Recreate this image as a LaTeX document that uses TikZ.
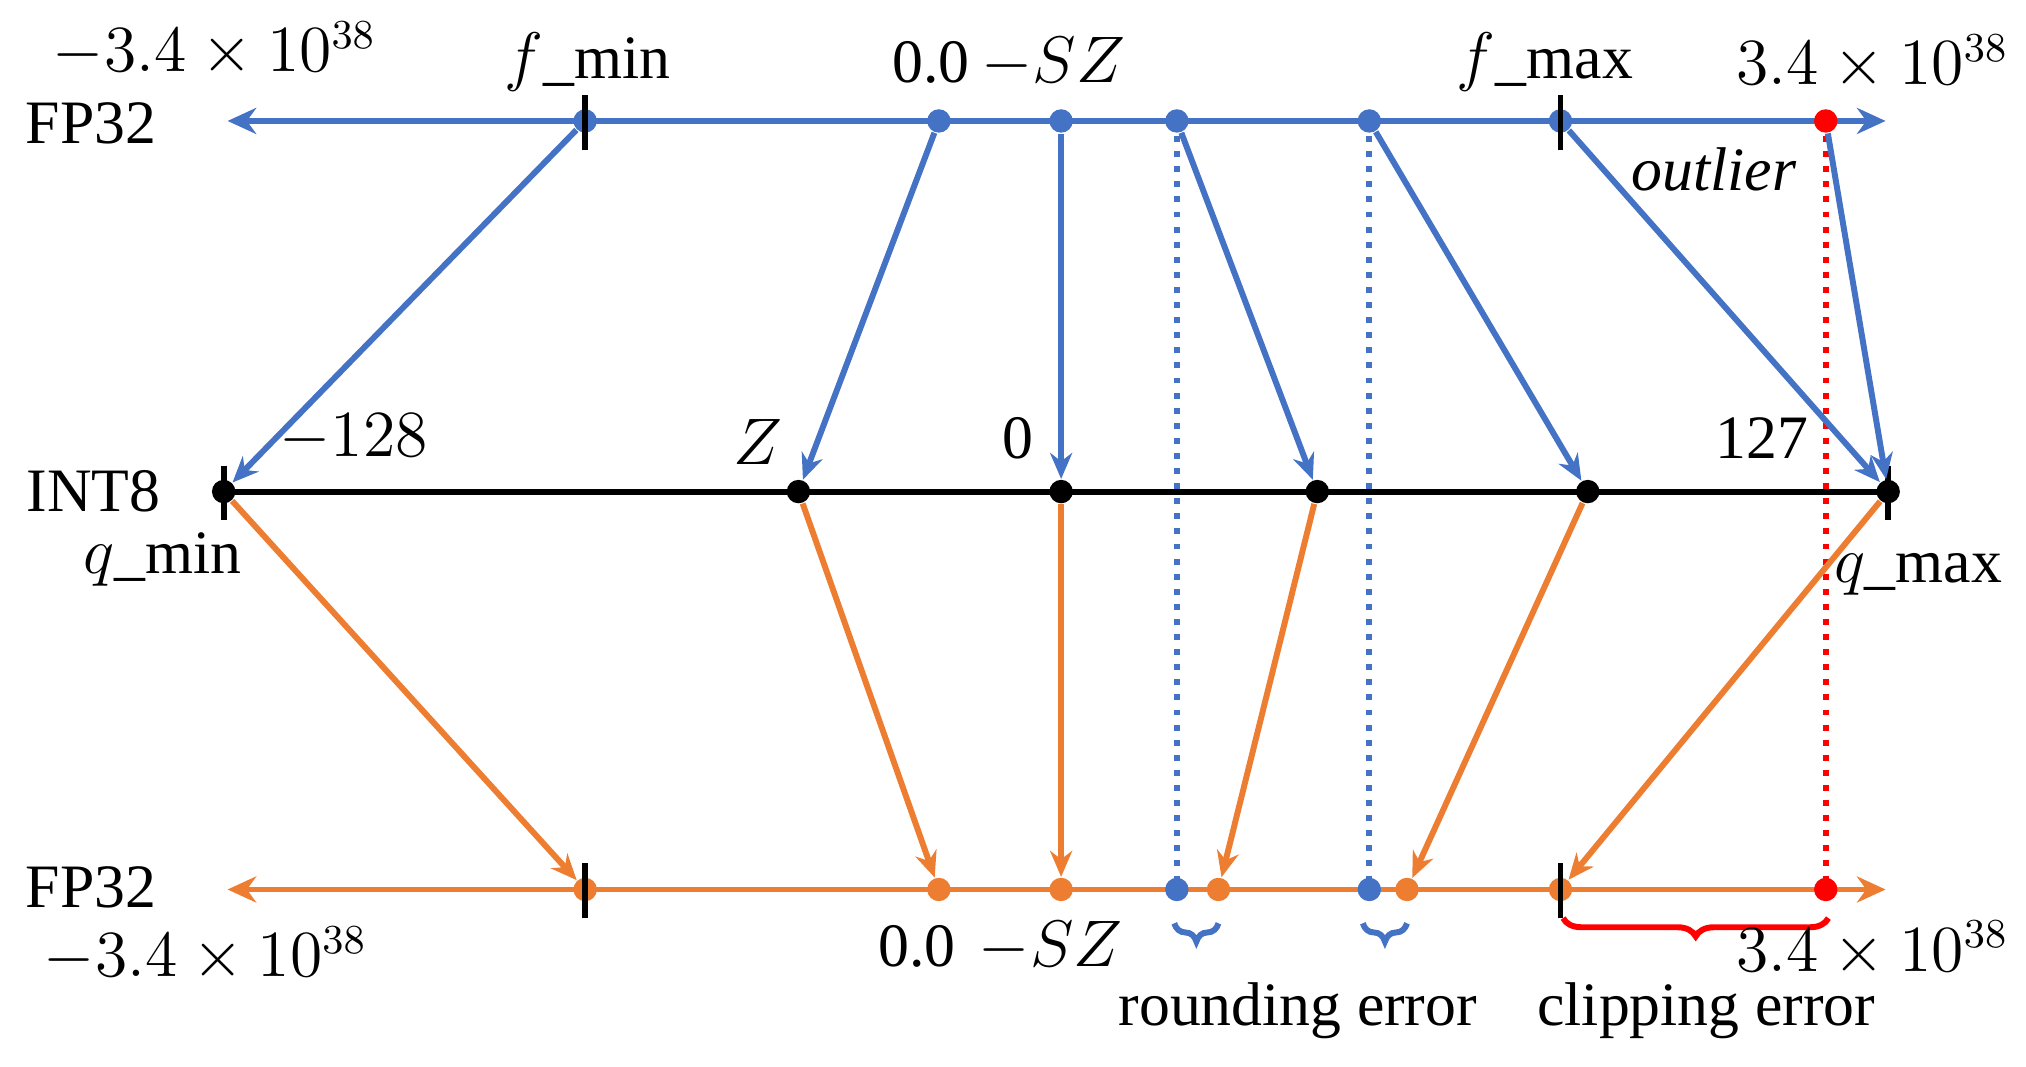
\documentclass[tikz,border=0pt]{standalone}
\usepackage{fontspec}
\setmainfont{Liberation Serif}
\newfontfamily\tfont{Liberation Serif}
\usetikzlibrary{arrows.meta,decorations.pathreplacing}
\definecolor{bl}{RGB}{68,114,196}
\definecolor{org}{RGB}{237,125,49}
\definecolor{rd}{RGB}{255,0,0}
\begin{document}
\begin{tikzpicture}[x=0.01cm,y=-0.01cm,
  dot/.style={circle,fill=#1,inner sep=0pt,minimum size=0.18cm},
  lbl/.style={inner sep=0pt,font=\tfont\fontsize{13.5}{16}\selectfont},
  ar/.style={line width=1.3pt,#1,-{Stealth[length=0.2cm,width=0.17cm]}},
  tk/.style={line width=1.3pt,black},
  dt/.style={line width=1.3pt,#1,dotted},
  br/.style={line width=1.3pt,#1,decorate,decoration={brace,mirror,amplitude=4pt}}]
\useasboundingbox (0,0) rectangle (1558,820);
% lines
\coordinate (tL) at (175,93); \coordinate (tR) at (1450,93);
\coordinate (mL) at (172,378); \coordinate (mR) at (1452,378);
\coordinate (bL) at (175,684); \coordinate (bR) at (1450,684);
\draw[line width=1.3pt,bl,{Stealth[length=0.22cm,width=0.2cm]}-{Stealth[length=0.22cm,width=0.2cm]}] (tL) -- (tR);
\draw[line width=1.3pt,black] (mL) -- (mR);
\draw[line width=1.3pt,org,{Stealth[length=0.22cm,width=0.2cm]}-{Stealth[length=0.22cm,width=0.2cm]}] (bL) -- (bR);
% dotted verticals
\draw[dt=bl] (905,93) -- (905,684);
\draw[dt=bl] (1053,93) -- (1053,684);
\draw[dt=rd] (1404,93) -- (1404,684);
% top dots
\node[dot=bl] (t1) at (450,93) {};
\node[dot=bl] (t2) at (722,93) {};
\node[dot=bl] (t3) at (816,93) {};
\node[dot=bl] (t4) at (905,93) {};
\node[dot=bl] (t5) at (1053,93) {};
\node[dot=bl] (t6) at (1200,93) {};
\node[dot=rd] (t7) at (1404,93) {};
% middle dots
\node[dot=black] (m1) at (172,378) {};
\node[dot=black] (m2) at (614,378) {};
\node[dot=black] (m3) at (816,378) {};
\node[dot=black] (m4) at (1013,378) {};
\node[dot=black] (m5) at (1221,378) {};
\node[dot=black] (m6) at (1452,378) {};
% bottom dots
\node[dot=org] (b1) at (450,684) {};
\node[dot=org] (b2) at (722,684) {};
\node[dot=org] (b3) at (816,684) {};
\node[dot=bl] (b4) at (905,684) {};
\node[dot=org] (b5) at (937,684) {};
\node[dot=bl] (b6) at (1053,684) {};
\node[dot=org] (b7) at (1082,684) {};
\node[dot=org] (b8) at (1200,684) {};
\node[dot=rd] (b9) at (1404,684) {};
% ticks
\draw[tk] (450,73) -- (450,115);
\draw[tk] (1200,73) -- (1200,115);
\draw[tk] (172,358) -- (172,400);
\draw[tk] (1452,358) -- (1452,400);
\draw[tk] (450,664) -- (450,706);
\draw[tk] (1200,664) -- (1200,706);
% arrows top -> middle
\draw[ar=bl] (t1) -- (m1);
\draw[ar=bl] (t2) -- (m2);
\draw[ar=bl] (t3) -- (m3);
\draw[ar=bl] (t4) -- (m4);
\draw[ar=bl] (t5) -- (m5);
\draw[ar=bl] (t6) -- (m6);
\draw[ar=bl] (t7) -- (m6);
% arrows middle -> bottom
\draw[ar=org] (m1) -- (b1);
\draw[ar=org] (m2) -- (b2);
\draw[ar=org] (m3) -- (b3);
\draw[ar=org] (m4) -- (b5);
\draw[ar=org] (m5) -- (b7);
\draw[ar=org] (m6) -- (b8);
% braces
\coordinate (r1a) at (903,710); \coordinate (r1b) at (937,710);
\coordinate (r2a) at (1048,710); \coordinate (r2b) at (1082,710);
\coordinate (c1) at (1202,706); \coordinate (c2) at (1406,706);
\draw[br=bl] (r1a) -- (r1b);
\draw[br=bl] (r2a) -- (r2b);
\draw[br=rd] (c1) -- (c2);
% labels
\node[lbl] (l1) at (165,38) {$-3.4\times10^{38}$};
\node[lbl] (l2) at (70,95) {FP32};
\node[lbl] (l3) at (452,48) {$f$\_min};
\node[lbl] (l4) at (716,48) {0.0};
\node[lbl] (l5) at (810,48) {$-SZ$};
\node[lbl] (l6) at (1188,48) {$f$\_max};
\node[lbl] (l7) at (1440,48) {$3.4\times10^{38}$};
\node[lbl] (l8) at (1318,130) {\itshape outlier};
\node[lbl] (l9) at (272,337) {$-128$};
\node[lbl] (l10) at (583,340) {$Z$};
\node[lbl] (l11) at (783,337) {0};
\node[lbl] (l12) at (1355,337) {127};
\node[lbl] (l13) at (72,378) {INT8};
\node[lbl] (l14) at (125,430) {$q$\_min};
\node[lbl] (l15) at (1475,442) {$q$\_max};
\node[lbl] (l16) at (70,682) {FP32};
\node[lbl] (l17) at (158,734) {$-3.4\times10^{38}$};
\node[lbl] (l18) at (705,728) {0.0};
\node[lbl] (l19) at (808,728) {$-SZ$};
\node[lbl] (l20) at (1440,730) {$3.4\times10^{38}$};
\node[lbl] (l21) at (998,777) {rounding error};
\node[lbl] (l22) at (1312,777) {clipping error};
\end{tikzpicture}
\end{document}
